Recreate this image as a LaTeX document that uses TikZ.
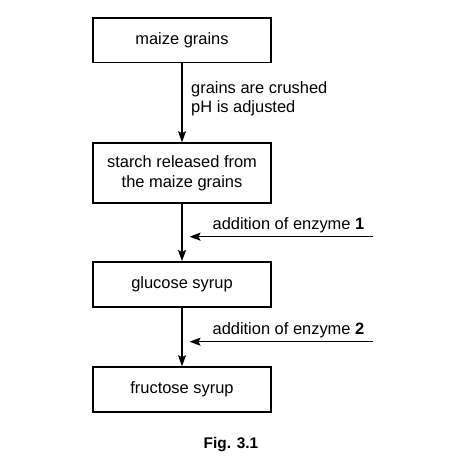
\documentclass[tikz,border=0pt]{standalone}
\usepackage{fontspec}
\setmainfont{Liberation Sans}
\usetikzlibrary{arrows.meta,positioning}
\tikzset{
  stagebox/.style={draw,line width=1.5bp,minimum width=178bp,align=center,inner sep=0pt},
  flow/.style={line width=1.5bp,-{Stealth[length=11bp,width=8bp,inset=2bp]}},
  note/.style={font=\fontsize{16.5}{19.5}\selectfont,inner sep=0pt}
}
\begin{document}
\begin{tikzpicture}[x=1bp,y=-1bp,font=\fontsize{16.5}{20}\selectfont]
  \useasboundingbox (0,0) rectangle (464,466);

  % stages
  \node[stagebox,minimum height=44.5bp] (maize) at (182,40.5) {maize grains};
  \node[stagebox,minimum height=60bp] (starch) at (182,173) {starch released from\\the maize grains};
  \node[stagebox,minimum height=45bp] (glucose) at (182,284.3) {glucose syrup};
  \node[stagebox,minimum height=45bp] (fructose) at (182,389.5) {fructose syrup};

  \draw[flow] (maize) -- (starch);
  \draw[flow] (starch) -- (glucose);
  \draw[flow] (glucose) -- (fructose);

  \node[note,anchor=west,align=left] (crush) at (191,98.5) {grains are crushed\\pH is adjusted};

  % enzymes added from the right
  \foreach \k/\y in {1/236.7,2/341.7} {
    \coordinate (in\k) at (372.5,\y);
    \coordinate (j\k) at (189.5,\y);
    \draw[flow] (in\k) -- (j\k);
    \node[note,anchor=base east] (enz\k) at ([xshift=-8bp,yshift=7.5bp]in\k) {addition of enzyme \textbf{\k}};
  }

  \node[font=\fontsize{15.5}{18}\selectfont\bfseries,anchor=base] (fig) at (231,448.3) {Fig. 3.1};
\end{tikzpicture}
\end{document}
